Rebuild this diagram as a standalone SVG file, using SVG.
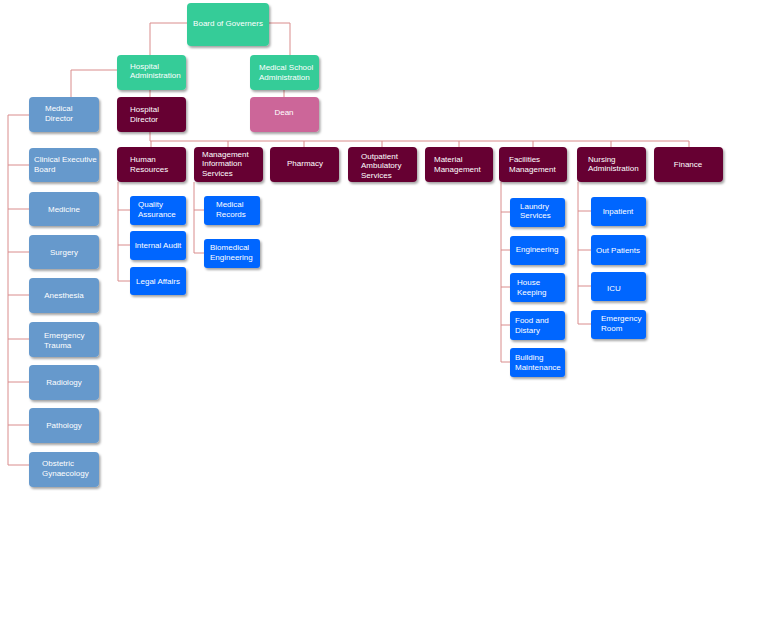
<svg xmlns="http://www.w3.org/2000/svg" width="768" height="640" viewBox="0 0 768 640">
<defs><filter id="sh" x="-10%" y="-10%" width="130%" height="140%"><feDropShadow dx="1.5" dy="2" stdDeviation="1" flood-color="#000" flood-opacity="0.35"/></filter></defs>
<style>
rect{filter:url(#sh)}
.g{fill:#35cc98}.s{fill:#6699cc}.m{fill:#660033}.p{fill:#cc6699}.b{fill:#0066ff}
text{font-family:"Liberation Sans",Arial,sans-serif;font-size:8px;fill:#fff}
.c path{fill:none;stroke:#d98c8c;stroke-width:1}
</style>
<rect width="768" height="640" fill="#fff" style="filter:none"/>
<g class="c">
<path d="M187 23H150V55M269 23H290V55M284 90V97M150 90V97M117 70H71V97"/>
<path d="M150 132V141H689V147M151 141V147M228 141V147M304 141V147M382 141V147M459 141V147M533 141V147M611 141V147"/>
<path d="M29 115H8V465H29M8 165H29M8 209H29M8 252H29M8 295H29M8 339H29M8 382H29M8 425H29"/>
<path d="M118 182V281H130M118 210H130M118 245H130M194 182V253H204M194 210H204"/>
<path d="M501 182V362H510M501 212H510M501 250H510M501 287H510M501 325H510"/>
<path d="M578 182V324H591M578 211H591M578 250H591M578 286H591"/>
</g>
<g id="board"><rect class="g" x="187" y="3" width="82" height="43" rx="4"/><text x="228" y="26" text-anchor="middle">Board of Governers</text></g>
<g id="hadmin"><rect class="g" x="117" y="55" width="69" height="35" rx="4"/><text x="130" y="69">Hospital</text><text x="130" y="78">Administration</text></g>
<g id="msadmin"><rect class="g" x="250" y="55" width="69" height="35" rx="4"/><text x="259" y="70">Medical School</text><text x="259" y="80">Administration</text></g>
<g id="hdir"><rect class="m" x="117" y="97" width="69" height="35" rx="4"/><text x="130" y="112">Hospital</text><text x="130" y="122">Director</text></g>
<g id="dean"><rect class="p" x="250" y="97" width="69" height="35" rx="4"/><text x="284" y="115" text-anchor="middle">Dean</text></g>
<g id="mdir"><rect class="s" x="29" y="97" width="70" height="35" rx="4"/><text x="45" y="111">Medical</text><text x="45" y="121">Director</text></g>
<g id="ceb"><rect class="s" x="29" y="148" width="70" height="34" rx="4"/><text x="34" y="162">Clinical Executive</text><text x="34" y="172">Board</text></g>
<g id="medicine"><rect class="s" x="29" y="192" width="70" height="34" rx="4"/><text x="64" y="212" text-anchor="middle">Medicine</text></g>
<g id="surgery"><rect class="s" x="29" y="235" width="70" height="34" rx="4"/><text x="64" y="255" text-anchor="middle">Surgery</text></g>
<g id="anesthesia"><rect class="s" x="29" y="278" width="70" height="35" rx="4"/><text x="64" y="298" text-anchor="middle">Anesthesia</text></g>
<g id="emergency"><rect class="s" x="29" y="322" width="70" height="35" rx="4"/><text x="44" y="338">Emergency</text><text x="44" y="348">Trauma</text></g>
<g id="radiology"><rect class="s" x="29" y="365" width="70" height="35" rx="4"/><text x="64" y="385" text-anchor="middle">Radiology</text></g>
<g id="pathology"><rect class="s" x="29" y="408" width="70" height="35" rx="4"/><text x="64" y="428" text-anchor="middle">Pathology</text></g>
<g id="obstetric"><rect class="s" x="29" y="452" width="70" height="35" rx="4"/><text x="42" y="466">Obstetric</text><text x="42" y="476">Gynaecology</text></g>
<g id="hr"><rect class="m" x="117" y="147" width="69" height="35" rx="4"/><text x="130" y="162">Human</text><text x="130" y="172">Resources</text></g>
<g id="mis"><rect class="m" x="194" y="147" width="69" height="35" rx="4"/><text x="202" y="157">Management</text><text x="202" y="166">Information</text><text x="202" y="176">Services</text></g>
<g id="pharmacy"><rect class="m" x="270" y="147" width="69" height="35" rx="4"/><text x="305" y="166" text-anchor="middle">Pharmacy</text></g>
<g id="outpatient"><rect class="m" x="348" y="147" width="69" height="35" rx="4"/><text x="361" y="159">Outpatient</text><text x="361" y="168">Ambulatory</text><text x="361" y="178">Services</text></g>
<g id="material"><rect class="m" x="425" y="147" width="68" height="35" rx="4"/><text x="434" y="162">Material</text><text x="434" y="172">Management</text></g>
<g id="facilities"><rect class="m" x="499" y="147" width="68" height="35" rx="4"/><text x="509" y="162">Facilities</text><text x="509" y="172">Management</text></g>
<g id="nursing"><rect class="m" x="577" y="147" width="69" height="35" rx="4"/><text x="588" y="162">Nursing</text><text x="588" y="171">Administration</text></g>
<g id="finance"><rect class="m" x="654" y="147" width="69" height="35" rx="4"/><text x="688" y="167" text-anchor="middle">Finance</text></g>
<g id="qa"><rect class="b" x="130" y="196" width="56" height="29" rx="3"/><text x="138" y="207">Quality</text><text x="138" y="217">Assurance</text></g>
<g id="audit"><rect class="b" x="130" y="231" width="56" height="29" rx="3"/><text x="158" y="248" text-anchor="middle">Internal Audit</text></g>
<g id="legal"><rect class="b" x="130" y="267" width="56" height="28" rx="3"/><text x="158" y="284" text-anchor="middle">Legal Affairs</text></g>
<g id="medrec"><rect class="b" x="204" y="196" width="56" height="29" rx="3"/><text x="216" y="207">Medical</text><text x="216" y="217">Records</text></g>
<g id="biomed"><rect class="b" x="204" y="239" width="56" height="29" rx="3"/><text x="210" y="250">Biomedical</text><text x="210" y="260">Engineering</text></g>
<g id="laundry"><rect class="b" x="510" y="198" width="55" height="29" rx="3"/><text x="520" y="209">Laundry</text><text x="520" y="218">Services</text></g>
<g id="eng"><rect class="b" x="510" y="236" width="55" height="29" rx="3"/><text x="537" y="252" text-anchor="middle">Engineering</text></g>
<g id="house"><rect class="b" x="510" y="273" width="55" height="29" rx="3"/><text x="517" y="285">House</text><text x="517" y="295">Keeping</text></g>
<g id="food"><rect class="b" x="510" y="311" width="55" height="29" rx="3"/><text x="515" y="323">Food and</text><text x="515" y="333">Distary</text></g>
<g id="building"><rect class="b" x="510" y="348" width="55" height="29" rx="3"/><text x="515" y="360">Building</text><text x="515" y="370">Maintenance</text></g>
<g id="inpatient"><rect class="b" x="591" y="197" width="55" height="29" rx="3"/><text x="618" y="214" text-anchor="middle">Inpatient</text></g>
<g id="outpat"><rect class="b" x="591" y="235" width="55" height="30" rx="3"/><text x="618" y="253" text-anchor="middle">Out Patients</text></g>
<g id="icu"><rect class="b" x="591" y="272" width="55" height="29" rx="3"/><text x="614" y="291" text-anchor="middle">ICU</text></g>
<g id="er"><rect class="b" x="591" y="310" width="55" height="29" rx="3"/><text x="601" y="321">Emergency</text><text x="601" y="331">Room</text></g>
</svg>
